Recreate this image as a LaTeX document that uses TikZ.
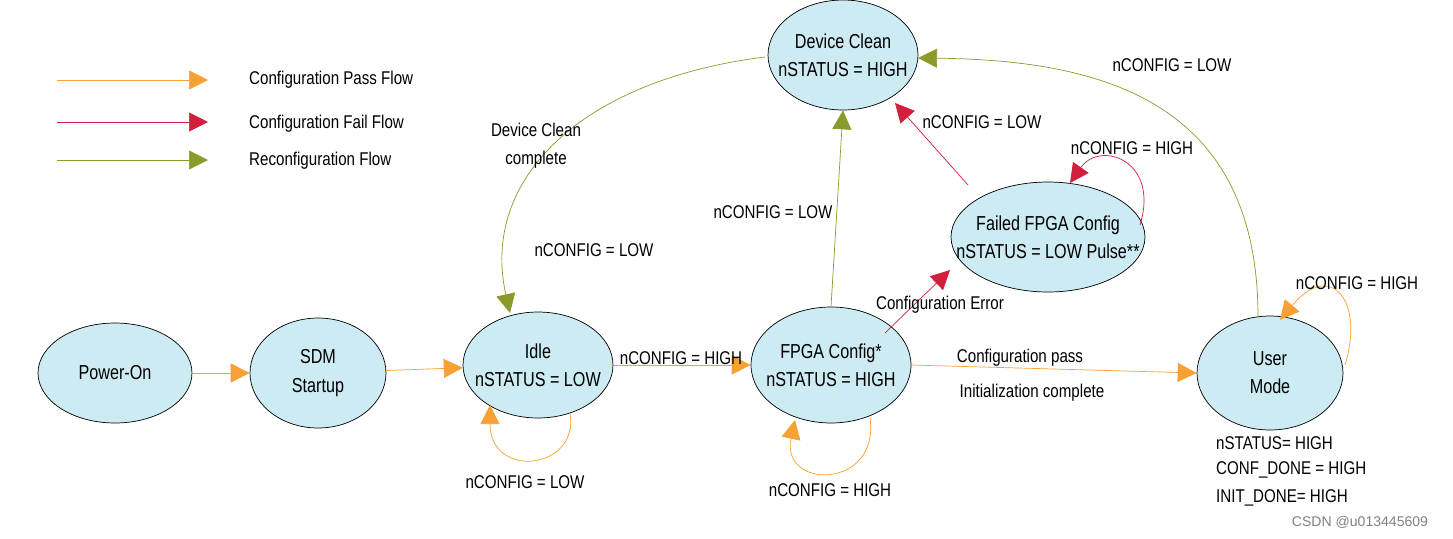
\documentclass[tikz,border=0pt]{standalone}
\usepackage{fontspec}
\setmainfont{Liberation Sans}
\usetikzlibrary{arrows.meta,shapes.geometric}
\definecolor{fillc}{HTML}{CDEBF3}
\definecolor{orng}{HTML}{F7A033}
\definecolor{rd}{HTML}{D21F3C}
\definecolor{olv}{HTML}{8C9A2B}
\newcommand{\zb}[1]{\makebox[0pt]{#1}}
\begin{document}
\begin{tikzpicture}[x=0.02cm,y=-0.02cm,
  st/.style={ellipse,draw=black,thin,fill=fillc,align=center,inner sep=0pt,font=\fontsize{11.5}{16}\selectfont\addfontfeature{FakeStretch=0.8}},
  lbl/.style={font=\fontsize{10.5}{13.5}\selectfont\addfontfeature{FakeStretch=0.82},align=center},
  tip/.style={-{Triangle[length=0.38cm,width=0.38cm]}},
  pass/.style={tip,draw=orng,thin,color=orng},
  fail/.style={tip,draw=rd,thin,color=rd},
  reconf/.style={tip,draw=olv,thin,color=olv}]
\useasboundingbox (0,0) rectangle (1453,538);
\node[st,minimum width=3.08cm,minimum height=2.0cm] (pon) at (115,373) {\zb{Power-On}};
\node[st,minimum width=2.72cm,minimum height=2.2cm] (sdm) at (318,373) {\zb{SDM}\\\zb{Startup}};
\node[st,minimum width=3.0cm,minimum height=2.12cm] (idle) at (538,365) {\zb{Idle}\\\zb{nSTATUS = LOW}};
\node[st,minimum width=3.2cm,minimum height=2.32cm] (fpga) at (831,365) {\zb{FPGA Config*}\\\zb{nSTATUS = HIGH}};
\node[st,minimum width=2.92cm,minimum height=2.28cm] (user) at (1270,373) {\zb{User}\\\zb{Mode}};
\node[st,minimum width=3.0cm,minimum height=2.2cm] (dc) at (843,55) {\zb{Device Clean}\\\zb{nSTATUS = HIGH}};
\node[st,minimum width=3.88cm,minimum height=2.2cm] (fail) at (1048,237) {\zb{Failed FPGA Config}\\\zb{nSTATUS = LOW Pulse**}};
% legend
\coordinate (l1a) at (57,80); \coordinate (l1b) at (208,80);
\coordinate (l2a) at (57,122); \coordinate (l2b) at (208,122);
\coordinate (l3a) at (57,160); \coordinate (l3b) at (208,160);
\draw[pass] (l1a) -- (l1b);
\draw[fail] (l2a) -- (l2b);
\draw[reconf] (l3a) -- (l3b);
\node[lbl,anchor=west] (t1) at (243,80) {Configuration Pass Flow};
\node[lbl,anchor=west] (t2) at (243,124) {Configuration Fail Flow};
\node[lbl,anchor=west] (t3) at (243,161) {Reconfiguration Flow};
% pass
\draw[pass] (pon) -- (sdm);
\draw[pass] (sdm) -- (idle);
\draw[pass] (idle.east) -- (fpga.west);
\draw[pass] (fpga.east) -- (user.west);
\draw[pass] (570,413) .. controls (580,470) and (490,480) .. (490,405);
\draw[pass] (870,418) .. controls (880,490) and (780,490) .. (795,420);
\draw[pass] (1345,365) .. controls (1365,300) and (1330,260) .. (1280,320);
% fail
\draw[fail] (885,333) -- (950,270);
\draw[fail] (968,185) -- (895,103);
\draw[fail] (1140,225) .. controls (1160,160) and (1100,140) .. (1070,183);
% reconf
\draw[reconf] (fpga.north) -- (dc.south);
\draw[reconf] (1258,317) .. controls (1258,100) and (1100,60) .. (918,58);
\draw[reconf] (765,57) .. controls (580,80) and (480,180) .. (510,313);
% labels
\node[lbl] (a1) at (681,358) {nCONFIG = HIGH};
\node[lbl] (a2) at (1020,358) {Configuration pass};
\node[lbl] (a3) at (1032,393) {Initialization complete};
\node[lbl] (a4) at (525,482) {nCONFIG = LOW};
\node[lbl] (a5) at (830,490) {nCONFIG = HIGH};
\node[lbl] (a6) at (1357,283) {nCONFIG = HIGH};
\node[lbl] (a7) at (773,212) {nCONFIG = LOW};
\node[lbl] (a8) at (940,305) {Configuration Error};
\node[lbl] (a9) at (982,122) {nCONFIG = LOW};
\node[lbl] (a10) at (1132,148) {nCONFIG = HIGH};
\node[lbl] (a11) at (1172,65) {nCONFIG = LOW};
\node[lbl,align=center,font=\fontsize{10.5}{16}\selectfont\addfontfeature{FakeStretch=0.82}] (a12) at (536,146) {Device Clean\\complete};
\node[lbl] (a13) at (594,250) {nCONFIG = LOW};
\node[lbl,anchor=west] (b1) at (1210,443) {nSTATUS= HIGH};
\node[lbl,anchor=west] (b2) at (1210,470) {CONF\_DONE = HIGH};
\node[lbl,anchor=west] (b3) at (1210,498) {INIT\_DONE= HIGH};
\node[font=\fontsize{8}{10}\selectfont,text=gray] (wm) at (1360,522) {CSDN @u013445609};
\end{tikzpicture}
\end{document}
